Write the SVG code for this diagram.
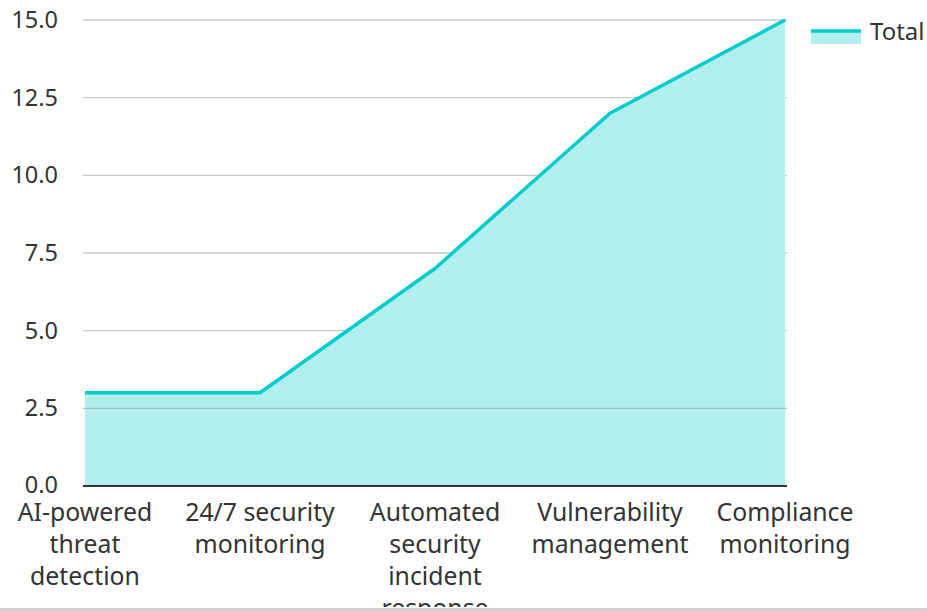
<svg xmlns="http://www.w3.org/2000/svg" width="927" height="611" viewBox="0 0 927 611">
<style>
.grid{stroke:#c8c8c8;stroke-width:1.3}
.tick{font-family:"Noto Sans","Open Sans",sans-serif;font-size:24px;fill:#333}
.ytick{font-family:"Noto Sans","Open Sans",sans-serif;font-size:23.5px;fill:#333;text-anchor:end}
.cat{font-family:"Noto Sans","Open Sans",sans-serif;font-size:24.8px;fill:#333;text-anchor:middle}
</style>
<rect width="927" height="611" fill="#fff"/>
<g id="grid">
<line class="grid" x1="83" y1="20" x2="787" y2="20"/>
<line class="grid" x1="83" y1="97.7" x2="787" y2="97.7"/>
<line class="grid" x1="83" y1="175.3" x2="787" y2="175.3"/>
<line class="grid" x1="83" y1="253" x2="787" y2="253"/>
<line class="grid" x1="83" y1="330.7" x2="787" y2="330.7"/>
</g>
<g id="area">
<path d="M85,486 L85,392.8 L260,392.8 L435,268.5 L610,113.2 L785,20 L785,486 Z" fill="#b2eeee"/>
</g>
<line x1="83" y1="408.3" x2="787" y2="408.3" stroke="#9cc4c4" stroke-width="1.3"/>
<g id="connectors">
<polyline points="85,392.8 260,392.8 435,268.5 610,113.2 785,20" fill="none" stroke="#00cccc" stroke-width="3.5" stroke-linejoin="round"/>
</g>
<line x1="83" y1="486" x2="787" y2="486" stroke="#333" stroke-width="2"/>
<g id="yaxis">
<text class="ytick" x="58" y="28">15.0</text>
<text class="ytick" x="58" y="105.7">12.5</text>
<text class="ytick" x="58" y="183.3">10.0</text>
<text class="ytick" x="58" y="261">7.5</text>
<text class="ytick" x="58" y="338.7">5.0</text>
<text class="ytick" x="58" y="416.3">2.5</text>
<text class="ytick" x="58" y="493">0.0</text>
</g>
<defs><clipPath id="c"><rect x="0" y="0" width="927" height="607"/></clipPath></defs>
<g id="xaxis" clip-path="url(#c)">
<text class="cat" x="85" y="521">AI-powered<tspan x="85" dy="32">threat</tspan><tspan x="85" dy="32">detection</tspan></text>
<text class="cat" x="260" y="521">24/7 security<tspan x="260" dy="32">monitoring</tspan></text>
<text class="cat" x="435" y="521">Automated<tspan x="435" dy="32">security</tspan><tspan x="435" dy="32">incident</tspan><tspan x="435" dy="32">response</tspan></text>
<text class="cat" x="610" y="521">Vulnerability<tspan x="610" dy="32">management</tspan></text>
<text class="cat" x="785" y="521">Compliance<tspan x="785" dy="32">monitoring</tspan></text>
</g>
<g id="legend">
<rect x="811" y="31" width="50" height="13" fill="#b2eeee"/>
<line x1="811" y1="31" x2="861" y2="31" stroke="#00cccc" stroke-width="3.5"/>
<text class="tick" x="870" y="40">Total</text>
</g>
<line x1="0" y1="609.5" x2="927" y2="609.5" stroke="#d0d0d0" stroke-width="3"/>
</svg>
